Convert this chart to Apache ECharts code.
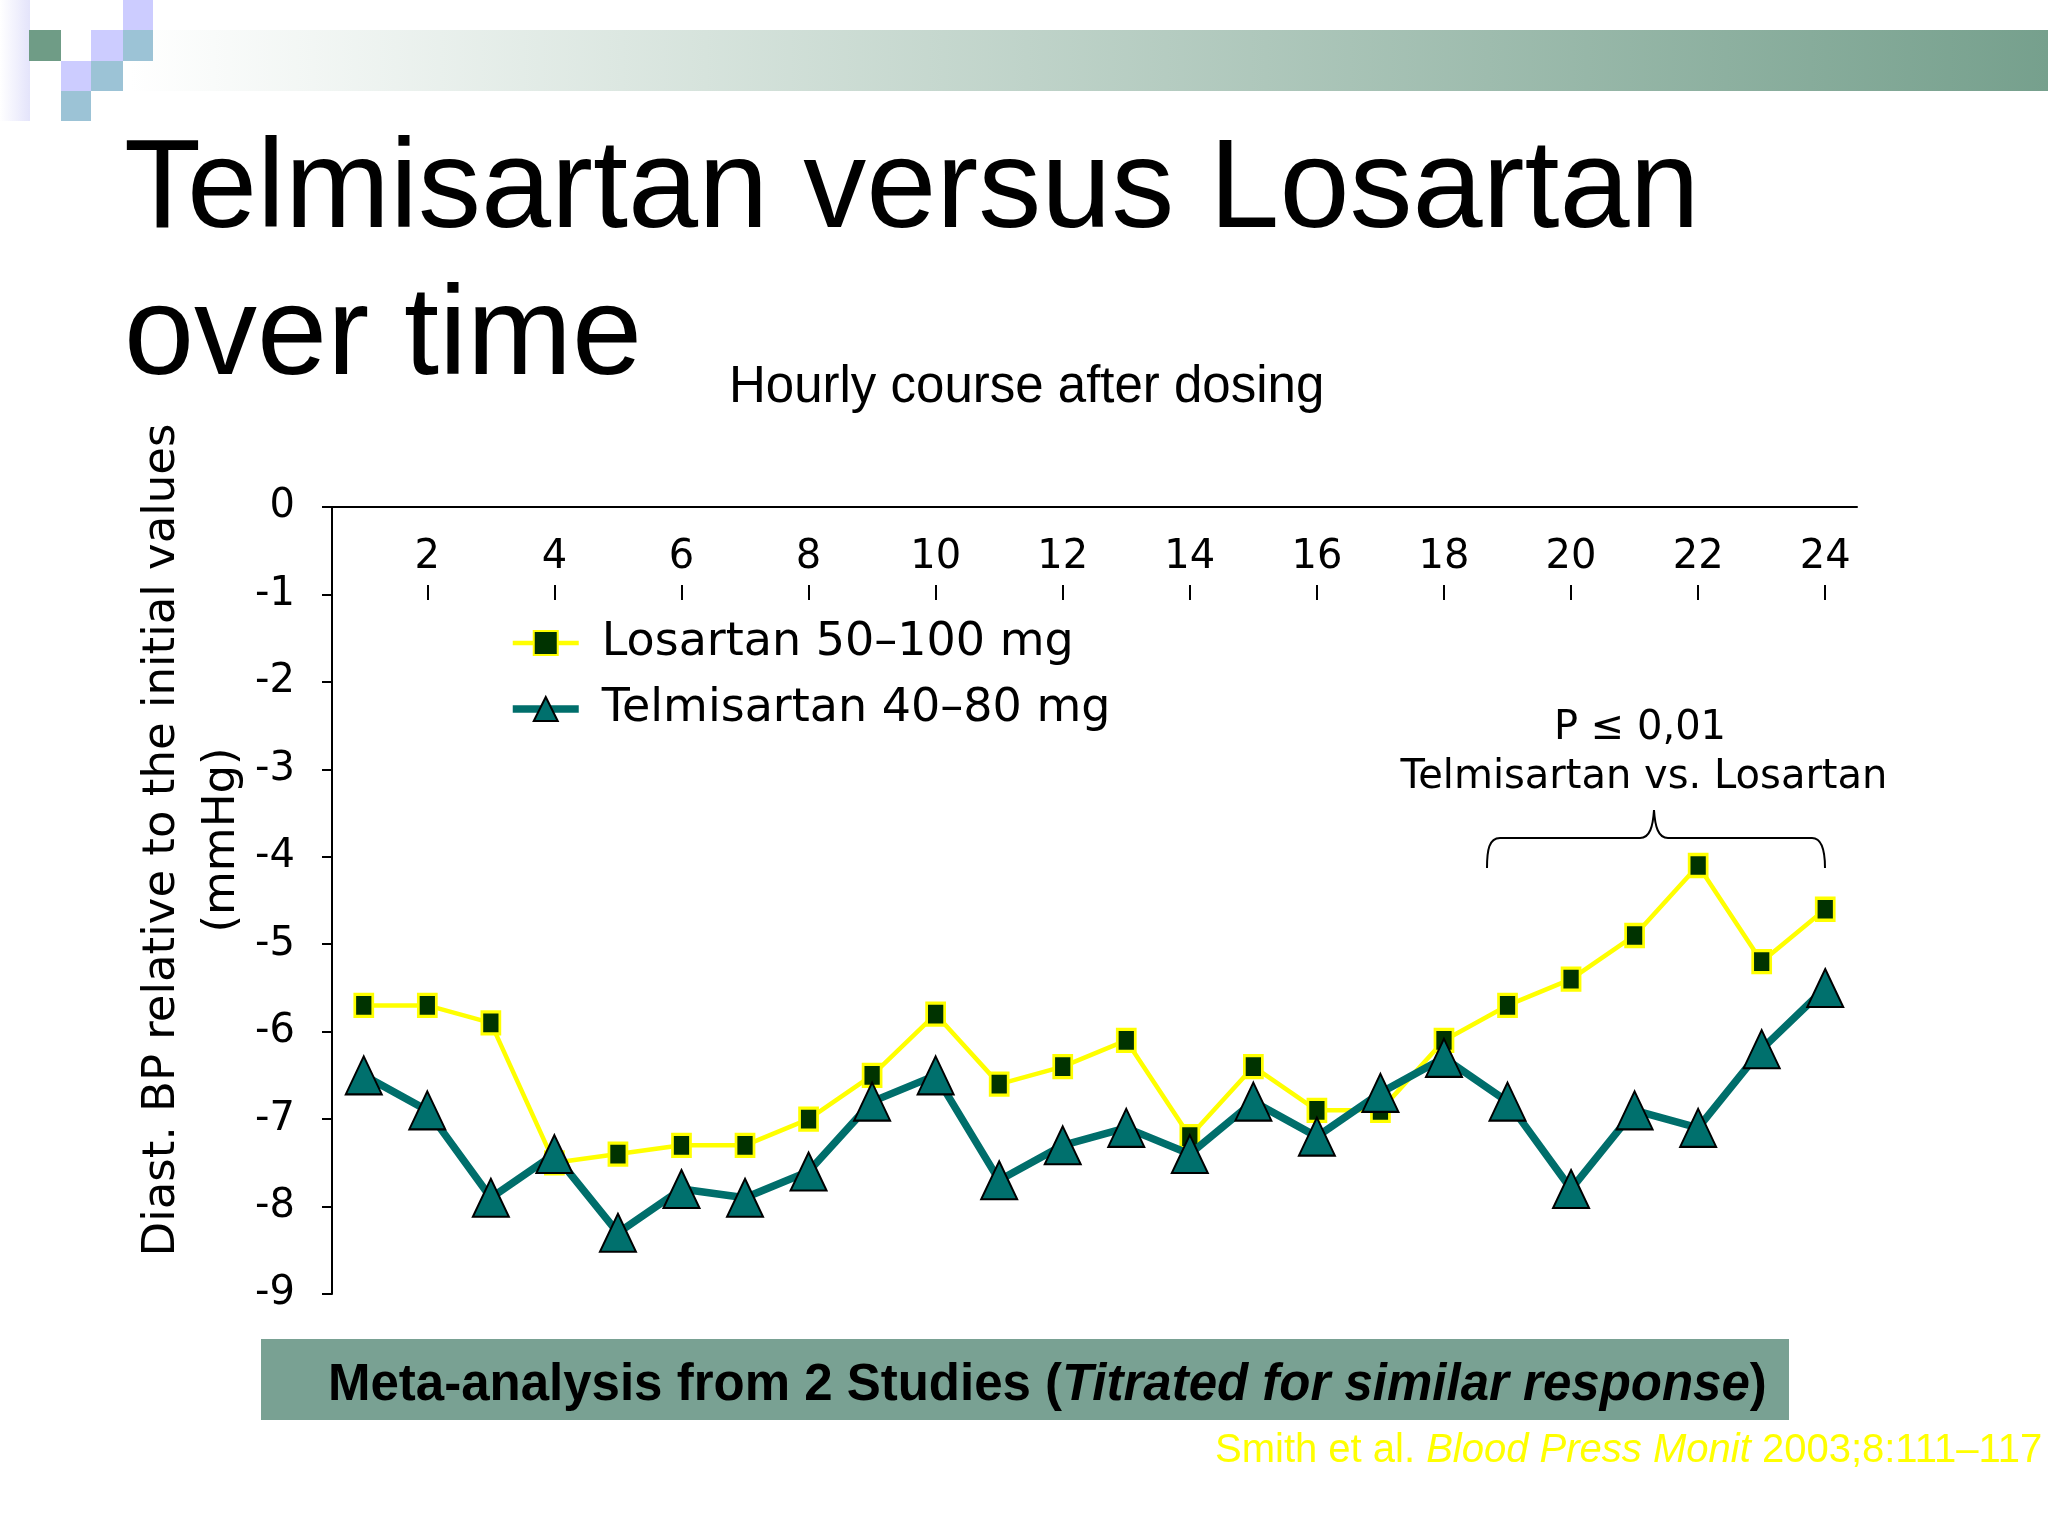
<!DOCTYPE html>
<html>
<head>
<meta charset="utf-8">
<title>Telmisartan versus Losartan over time</title>
<script src="https://cdn.jsdelivr.net/npm/echarts@6/dist/echarts.min.js"></script>
<style>
    html, body { margin: 0; padding: 0; background: #ffffff; }
    #chart { width: 2048px; height: 1536px; }
</style>
</head>
<body>
<div id="chart"></div>
<script>
// hours after dosing
var hours = ['1', '2', '3', '4', '5', '6', '7', '8', '9', '10', '11', '12',
    '13', '14', '15', '16', '17', '18', '19', '20', '21', '22', '23', '24'];

// diastolic BP change vs. baseline (mmHg)
var losartan = [-5.7, -5.7, -5.9, -7.5, -7.4, -7.3, -7.3, -7.0, -6.5, -5.8, -6.6, -6.4,
    -6.1, -7.2, -6.4, -6.9, -6.9, -6.1, -5.7, -5.4, -4.9, -4.1, -5.2, -4.6];
var telmisartan = [-6.5, -6.9, -7.9, -7.4, -8.3, -7.8, -7.9, -7.6, -6.8, -6.5, -7.7, -7.3,
    -7.1, -7.4, -6.8, -7.2, -6.7, -6.3, -6.8, -7.8, -6.9, -7.1, -6.2, -5.5];

var seriesNames = ['Losartan 50\u2013100 mg', 'Telmisartan 40\u201380 mg'];

var axisFont = 'DejaVu Sans';
var slideFont = 'Liberation Sans';

var chart = echarts.init(document.getElementById('chart'));

var evenHour = function (index) { return index % 2 === 1; };

var braceStyle = { fill: 'none', stroke: '#000', lineWidth: 2 };

var opts = {
    animation: false,
    backgroundColor: '#ffffff',
    title: [
        {
            text: 'Telmisartan versus Losartan\nover time',
            left: 124,
            top: 119,
            padding: 0,
            textStyle: {
                fontFamily: slideFont,
                fontSize: 126,
                fontWeight: 'normal',
                color: '#000',
                lineHeight: 147
            }
        },
        {
            text: 'Hourly course after dosing',
            left: 729,
            top: 358,
            padding: 0,
            textStyle: {
                fontFamily: slideFont,
                fontSize: 51,
                fontWeight: 'normal',
                color: '#000',
                lineHeight: 60
            }
        }
    ],
    legend: {
        orient: 'vertical',
        left: 509,
        top: 620,
        padding: 0,
        itemWidth: 66,
        itemHeight: 30,
        itemGap: 20,
        data: seriesNames,
        lineStyle: { width: 'inherit' },
        textStyle: {
            fontFamily: axisFont,
            fontSize: 46,
            lineHeight: 46,
            color: '#000',
            padding: [0, 0, 0, 18]
        }
    },
    grid: {
        left: 332,
        top: 507,
        width: 1525,
        height: 787,
        containLabel: false
    },
    xAxis: [
        {
            type: 'category',
            data: hours,
            position: 'top',
            boundaryGap: true,
            axisLine: { show: true, onZero: false, lineStyle: { color: '#000', width: 2 } },
            axisTick: { show: false },
            splitLine: { show: false },
            axisLabel: {
                inside: true,
                margin: 31,
                interval: evenHour,
                fontFamily: axisFont,
                fontSize: 40,
                color: '#000'
            }
        },
        {
            type: 'category',
            data: hours,
            position: 'top',
            offset: -78,
            boundaryGap: true,
            axisLine: { show: false, onZero: false },
            axisLabel: { show: false },
            splitLine: { show: false },
            axisTick: {
                show: true,
                inside: true,
                length: 15,
                alignWithLabel: true,
                interval: evenHour,
                lineStyle: { color: '#000', width: 2 }
            }
        }
    ],
    yAxis: {
        type: 'value',
        min: -9,
        max: 0,
        interval: 1,
        axisLine: { show: true, lineStyle: { color: '#000', width: 2 } },
        axisTick: { show: true, length: 10, lineStyle: { color: '#000', width: 2 } },
        splitLine: { show: false },
        axisLabel: {
            margin: 37,
            fontFamily: axisFont,
            fontSize: 40,
            color: '#000'
        }
    },
    series: [
        {
            name: seriesNames[0],
            type: 'line',
            data: losartan,
            xAxisIndex: 0,
            symbol: 'rect',
            symbolSize: [18, 22],
            z: 2,
            lineStyle: { color: '#ffff00', width: 4.5 },
            itemStyle: { color: '#003300', borderColor: '#ffff00', borderWidth: 3 }
        },
        {
            name: seriesNames[1],
            type: 'line',
            data: telmisartan,
            xAxisIndex: 0,
            symbol: 'triangle',
            symbolSize: [36, 38],
            z: 3,
            lineStyle: { color: '#006e6b', width: 7.5 },
            itemStyle: { color: '#00706d', borderColor: '#000', borderWidth: 2 }
        }
    ],
    graphic: [
        // header band
        {
            type: 'rect',
            shape: { x: 130, y: 30, width: 1918, height: 61 },
            style: {
                fill: new echarts.graphic.LinearGradient(0, 0, 1, 0, [
                    { offset: 0, color: '#ffffff' },
                    { offset: 0.3, color: '#d6e3dc' },
                    { offset: 1, color: '#76a08d' }
                ])
            },
            silent: true
        },
        {
            type: 'rect',
            shape: { x: 0, y: 0, width: 30, height: 121 },
            style: {
                fill: new echarts.graphic.LinearGradient(0, 0, 1, 0, [
                    { offset: 0, color: '#ffffff' },
                    { offset: 1, color: '#e4e4fb' }
                ])
            },
            silent: true
        },
        { type: 'rect', shape: { x: 123, y: 0, width: 30, height: 30 }, style: { fill: '#ccccff' }, silent: true },
        { type: 'rect', shape: { x: 29, y: 30, width: 32, height: 31 }, style: { fill: '#6f9c86' }, silent: true },
        { type: 'rect', shape: { x: 91, y: 30, width: 32, height: 31 }, style: { fill: '#ccccff' }, silent: true },
        { type: 'rect', shape: { x: 123, y: 30, width: 30, height: 31 }, style: { fill: '#9cc3d6' }, silent: true },
        { type: 'rect', shape: { x: 61, y: 61, width: 30, height: 30 }, style: { fill: '#ccccff' }, silent: true },
        { type: 'rect', shape: { x: 91, y: 61, width: 32, height: 30 }, style: { fill: '#9cc3d6' }, silent: true },
        { type: 'rect', shape: { x: 61, y: 91, width: 30, height: 30 }, style: { fill: '#9cc3d6' }, silent: true },
        // y axis title
        {
            type: 'text',
            x: 192,
            y: 840,
            rotation: Math.PI / 2,
            style: {
                text: 'Diast. BP relative to the initial values\n(mmHg)',
                fontFamily: axisFont,
                fontSize: 45,
                lineHeight: 60,
                fill: '#000',
                align: 'center',
                verticalAlign: 'middle'
            }
        },
        // significance note and brace
        {
            type: 'text',
            x: 1640,
            y: 729,
            style: {
                text: 'P \u2264 0,01',
                fontFamily: axisFont,
                fontSize: 40,
                fill: '#000',
                align: 'center',
                verticalAlign: 'middle'
            }
        },
        {
            type: 'text',
            x: 1644,
            y: 778,
            style: {
                text: 'Telmisartan vs. Losartan',
                fontFamily: axisFont,
                fontSize: 40,
                fill: '#000',
                align: 'center',
                verticalAlign: 'middle'
            }
        },
        {
            type: 'bezierCurve',
            shape: { x1: 1487, y1: 868, cpx1: 1487, cpy1: 850, cpx2: 1489, cpy2: 838, x2: 1500, y2: 838 },
            style: braceStyle
        },
        { type: 'line', shape: { x1: 1500, y1: 838, x2: 1640, y2: 838 }, style: braceStyle },
        {
            type: 'bezierCurve',
            shape: { x1: 1640, y1: 838, cpx1: 1650, cpy1: 838, cpx2: 1653, cpy2: 826, x2: 1654, y2: 810 },
            style: braceStyle
        },
        {
            type: 'bezierCurve',
            shape: { x1: 1654, y1: 810, cpx1: 1655, cpy1: 826, cpx2: 1658, cpy2: 838, x2: 1668, y2: 838 },
            style: braceStyle
        },
        { type: 'line', shape: { x1: 1668, y1: 838, x2: 1812, y2: 838 }, style: braceStyle },
        {
            type: 'bezierCurve',
            shape: { x1: 1812, y1: 838, cpx1: 1822, cpy1: 838, cpx2: 1825, cpy2: 850, x2: 1825, y2: 868 },
            style: braceStyle
        },
        // bottom banner
        {
            type: 'rect',
            shape: { x: 261, y: 1339, width: 1528, height: 81 },
            style: { fill: '#79a193' },
            silent: true
        },
        {
            type: 'text',
            x: 328,
            y: 1386,
            style: {
                text: '{b|Meta-analysis from 2 Studies (}{i|Titrated for similar response}{b|)}',
                verticalAlign: 'middle',
                rich: {
                    b: { fontFamily: slideFont, fontSize: 51, fontWeight: 'bold', fill: '#000' },
                    i: { fontFamily: slideFont, fontSize: 51, fontWeight: 'bold', fontStyle: 'italic', fill: '#000' }
                }
            }
        },
        {
            type: 'text',
            x: 1215,
            y: 1451,
            style: {
                text: '{n|Smith et al. }{i|Blood Press Monit}{n| 2003;8:111\u2013117}',
                verticalAlign: 'middle',
                rich: {
                    n: { fontFamily: slideFont, fontSize: 40, fill: '#ffff00' },
                    i: { fontFamily: slideFont, fontSize: 40, fontStyle: 'italic', fill: '#ffff00' }
                }
            }
        }
    ]
};

chart.setOption(opts);
</script>
</body>
</html>
